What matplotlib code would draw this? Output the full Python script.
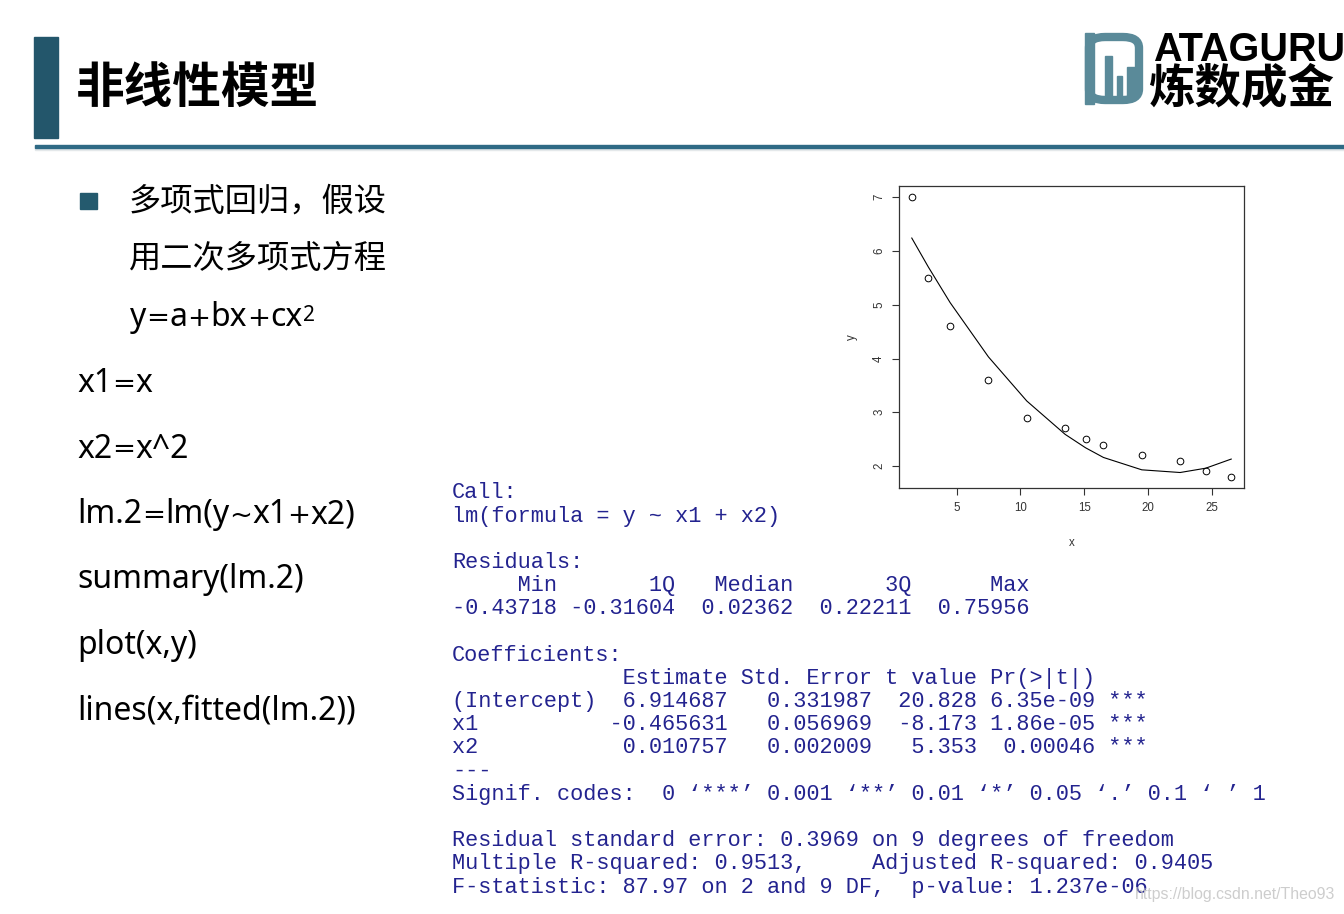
import matplotlib
matplotlib.use("Agg")
import matplotlib.pyplot as plt
from matplotlib.patches import Rectangle, FancyBboxPatch

# data
x = [1.5, 2.8, 4.5, 7.5, 10.5, 13.5, 15.1, 16.5, 19.5, 22.5, 24.5, 26.5]
y = [7.0, 5.5, 4.6, 3.6, 2.9, 2.7, 2.5, 2.4, 2.2, 2.1, 1.9, 1.8]
y_fit = [6.24, 5.70, 5.04, 4.03, 3.21, 2.59, 2.34, 2.16, 1.93, 1.88, 1.96, 2.13]
x_ticks = [5, 10, 15, 20, 25]
y_ticks = [2, 3, 4, 5, 6, 7]

title = "非线性模型"
bullet_lines = ["多项式回归，假设", "用二次多项式方程"]
formula = "y=a+bx+cx"
code_lines = ["x1=x", "x2=x^2", "lm.2=lm(y~x1+x2)", "summary(lm.2)",
              "plot(x,y)", "lines(x,fitted(lm.2))"]

r_output = [
    "Call:",
    "lm(formula = y ~ x1 + x2)",
    "",
    "Residuals:",
    "     Min       1Q   Median       3Q      Max ",
    "-0.43718 -0.31604  0.02362  0.22211  0.75956 ",
    "",
    "Coefficients:",
    "             Estimate Std. Error t value Pr(>|t|)    ",
    "(Intercept)  6.914687   0.331987  20.828 6.35e-09 ***",
    "x1          -0.465631   0.056969  -8.173 1.86e-05 ***",
    "x2           0.010757   0.002009   5.353  0.00046 ***",
    "---",
    "Signif. codes:  0 \u2018***\u2019 0.001 \u2018**\u2019 0.01 \u2018*\u2019 0.05 \u2018.\u2019 0.1 \u2018 \u2019 1",
    "",
    "Residual standard error: 0.3969 on 9 degrees of freedom",
    "Multiple R-squared: 0.9513,     Adjusted R-squared: 0.9405 ",
    "F-statistic: 87.97 on 2 and 9 DF,  p-value: 1.237e-06",
]

W, H = 1344, 914
fig = plt.figure(figsize=(W / 100, H / 100), dpi=100)
fig.patch.set_facecolor("white")
renderer = fig.canvas.get_renderer()


def px(xp, yp):
    return xp / W, 1 - yp / H


cjk = ["Noto Sans CJK SC", "DejaVu Sans"]
latin = ["Noto Sans", "Noto Sans CJK SC"]
teal = "#23566b"


def draw_run(x0, ybase, text, size=23):
    # operators drawn wider, like the slide's YaHei font
    runs, cur, cur_op = [], "", None
    for ch in text:
        is_op = ch in "=+~"
        if cur and (is_op != cur_op or is_op):
            runs.append((cur, cur_op))
            cur = ""
        cur += ch
        cur_op = is_op
    if cur:
        runs.append((cur, cur_op))
    xc = x0
    for seg, is_op in runs:
        if is_op:
            t = fig.text(xc / W, 1 - ybase / H, seg, family="DejaVu Sans",
                         fontsize=size * 0.86, va="baseline", ha="left")
        else:
            t = fig.text(xc / W, 1 - ybase / H, seg, family=latin,
                         fontsize=size, va="baseline", ha="left")
        xc = t.get_window_extent(renderer=renderer).x1
    return xc


# header
fig.patches.append(Rectangle(px(34, 138), 24 / W, 101 / H, transform=fig.transFigure,
                             color=teal, zorder=2))
fig.patches.append(Rectangle(px(35, 150), 1 - 35 / W, 4 / H, transform=fig.transFigure,
                             color="#e4e8ea", zorder=1))
fig.patches.append(Rectangle(px(35, 147.5), 1 - 35 / W, 2.2 / H, transform=fig.transFigure,
                             color="#2f6a85", zorder=2))
fig.text(*px(76, 88), title, family=cjk, fontsize=35, fontweight="bold",
         va="center", ha="left", color="black")

# logo
lc = "#5a8a99"
fig.patches.append(FancyBboxPatch(px(1089, 100), 50 / W, 63 / H, transform=fig.transFigure,
                                  boxstyle="round,pad=0,rounding_size=0.012",
                                  fill=False, ec=lc, lw=6))
fig.patches.append(Rectangle(px(1085, 104), 9 / W, 71 / H, transform=fig.transFigure, color=lc))
for bx, btop, bw in [(1105, 56, 7), (1117, 76, 5), (1127, 67, 8)]:
    fig.patches.append(Rectangle(px(bx, 98), bw / W, (98 - btop) / H,
                                 transform=fig.transFigure, color=lc))
fig.text(*px(1153, 61), "ATAGURU", family="Liberation Sans", fontsize=28.5,
         fontweight="bold", va="baseline", ha="left", color="black")
fig.text(*px(1148, 103), "炼数成金", family=cjk, fontsize=33.5, fontweight="bold",
         va="baseline", ha="left", color="black")

# left column
fig.patches.append(Rectangle(px(80, 209), 17 / W, 16 / H, transform=fig.transFigure,
                             color="#245a6e"))
for txt, yc in zip(bullet_lines, [202, 259]):
    fig.text(*px(129, yc), txt, family=cjk, fontsize=23.2, va="center", ha="left")
xe = draw_run(130, 326, formula)
fig.text((xe + 0.5) / W, 1 - 321 / H, "2", family=latin, fontsize=15,
         va="baseline", ha="left")
for i, txt in enumerate(code_lines):
    draw_run(77, 392 + i * 65.5, txt)

# R console output
for i, line in enumerate(r_output):
    if line:
        fig.text(*px(452, 498.5 + i * 23.18), line, family="Liberation Mono",
                 fontsize=15.72, va="baseline", ha="left", color="#23238f")

# scatter plot
ax = fig.add_axes([899 / W, 1 - 488 / H, 345 / W, 302 / H])
ax.plot(x, y, "o", mfc="none", mec="black", ms=4.8, mew=0.7)
ax.plot(x, y_fit, "-", color="black", lw=0.8)
ax.set_xlim(0.5, 27.5)
ax.set_ylim(1.592, 7.208)
ax.set_xticks(x_ticks)
ax.set_yticks(y_ticks)
for s in ax.spines.values():
    s.set_color("#333333")
    s.set_linewidth(0.9)
ax.tick_params(direction="out", length=5, width=0.8, color="#333333",
               labelsize=8.3, labelcolor="#333333", pad=5)
for lab in ax.get_xticklabels() + ax.get_yticklabels():
    lab.set_family("Liberation Sans")
plt.setp(ax.get_yticklabels(), rotation=90, va="center")
ax.set_xlabel("x", fontsize=8.3, family="Liberation Sans", color="#333333", labelpad=17)
ax.set_ylabel("y", fontsize=8.3, family="Liberation Sans", color="#333333", labelpad=11)

# watermark
fig.text(*px(1135, 895), "https://blog.csdn.net/Theo93", family="Liberation Sans",
         fontsize=11.4, va="center", ha="left", color="#c8c8c8", alpha=0.9)

fig.savefig("out.png", dpi=100)
